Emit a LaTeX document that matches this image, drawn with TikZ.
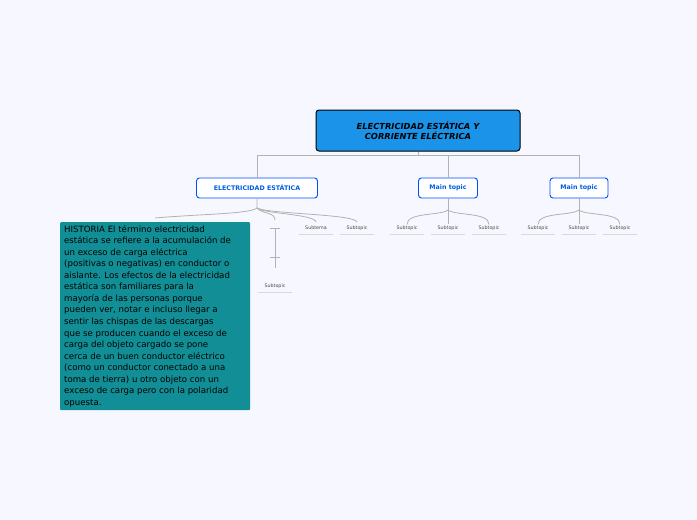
\documentclass[tikz,border=0pt]{standalone}
\usepackage{fontspec}
\setmainfont{DejaVu Sans}
\hyphenpenalty=10000 \exhyphenpenalty=10000
\begin{document}
\begin{tikzpicture}[x=1pt,y=-1pt,
 conn/.style={draw=black!30,line width=0.8pt},
 topic/.style={draw=blue!70!cyan,line width=0.9pt,fill=white,rounded corners=3pt,text=blue!60!cyan!90!black,font=\bfseries\fontsize{6.3}{7}\selectfont,minimum height=20,inner xsep=5pt},
 sub/.style={font=\fontsize{4.8}{5}\selectfont,text=black!70,inner sep=1pt},
 ul/.style={draw=black!15,line width=0.8pt}]
\fill[blue!3!white] (0,0) rectangle (697,520);
\node[draw=black,line width=1pt,fill={rgb,255:red,26;green,147;blue,232},rounded corners=3pt,minimum width=204,minimum height=41,align=center,font=\bfseries\itshape\fontsize{8.3}{10}\selectfont] (root) at (418,130.5) {ELECTRICIDAD ESTÁTICA Y\\CORRIENTE ELÉCTRICA};
\node[topic,minimum width=121] (t1) at (257,188) {ELECTRICIDAD ESTÁTICA};
\node[topic,minimum width=59] (t2) at (448,188) {Main topic};
\node[topic,minimum width=58] (t3) at (579,188) {Main topic};
\coordinate (j) at (418,155);
\draw[conn] (root.south) -- (j);
\draw[conn] (t1.north) -- (257,155) -- (579,155) -- (t3.north);
\draw[conn] (448,155) -- (t2.north);
% teal note
\node[fill={rgb,255:red,18;green,143;blue,150},rounded corners=1pt,minimum width=190,minimum height=188,anchor=north west,inner sep=0pt] (h) at (60,222) {};
\node[anchor=north west,align=left,font=\fontsize{8.6}{11.55}\selectfont,inner sep=0pt] (ht) at (64,225) {HISTORIA El término electricidad\\estática se refiere a la acumulación de\\un exceso de carga eléctrica\\(positivas o negativas) en conductor o\\aislante. Los efectos de la electricidad\\estática son familiares para la\\mayoría de las personas porque\\pueden ver, notar e incluso llegar a\\sentir las chispas de las descargas\\que se producen cuando el exceso de\\carga del objeto cargado se pone\\cerca de un buen conductor eléctrico\\(como un conductor conectado a una\\toma de tierra) u otro objeto con un\\exceso de carga pero con la polaridad\\opuesta.};
% t1 children
\coordinate (e1) at (275,228);
\node[sub] (s1b) at (316,228) {Subtema};
\node[sub] (s1c) at (357,228) {Subtopic};
\node[sub] (s1d) at (275,286) {Subtopic};
\draw[conn] (t1.south) -- (257,208) .. controls (250,214) and (200,214) .. (155,218);
\draw[conn] (257,208) .. controls (262,214) and (275,212) .. (275,220);
\draw[conn] (257,208) .. controls (265,214) and (314,214) .. (316,222);
\draw[conn] (257,208) .. controls (268,214) and (355,214) .. (357,222);
\draw[conn] (e1) -- (275,268);
\draw[conn] (270,228) -- (280,228) (270,257) -- (280,257);
\draw[ul] (299,234) -- (333,234) (340,234) -- (374,234) (258,292) -- (292,292);
% t2 children
\foreach \x/\n in {407/a,448/b,489/c}{\node[sub] (s2\n) at (\x,228) {Subtopic}; \draw[ul] (\x-17,234) -- (\x+17,234);}
\draw[conn] (t2.south) -- (s2b.north);
\draw[conn] (448,210) .. controls (440,216) and (407,212) .. (s2a.north);
\draw[conn] (448,210) .. controls (456,216) and (489,212) .. (s2c.north);
\foreach \x/\n in {538/a,579/b,620/c}{\node[sub] (s3\n) at (\x,228) {Subtopic}; \draw[ul] (\x-17,234) -- (\x+17,234);}
\draw[conn] (t3.south) -- (s3b.north);
\draw[conn] (579,210) .. controls (571,216) and (538,212) .. (s3a.north);
\draw[conn] (579,210) .. controls (587,216) and (620,212) .. (s3c.north);
\end{tikzpicture}
\end{document}
